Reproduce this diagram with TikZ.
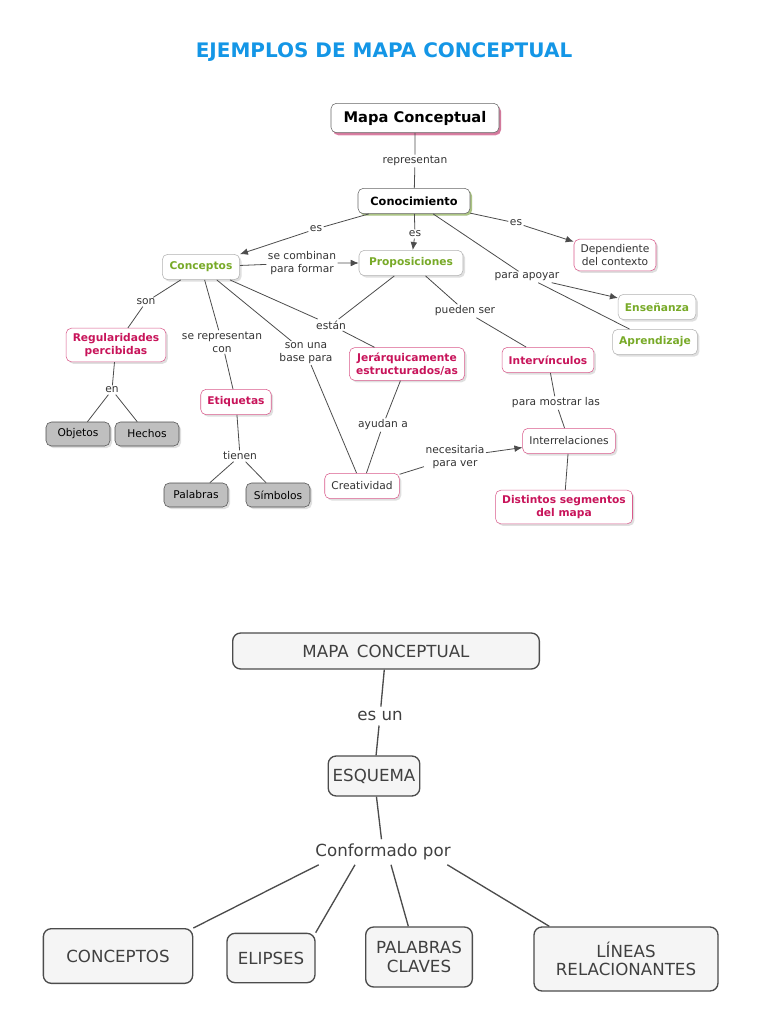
\documentclass[tikz,border=0pt]{standalone}
\usepackage{fontspec}
\setmainfont{DejaVu Sans}
\usetikzlibrary{shadows,arrows.meta}
\definecolor{rosa}{RGB}{200,20,90}
\definecolor{verde}{RGB}{120,170,40}
\definecolor{cian}{RGB}{20,150,230}
\tikzset{
  caja/.style={draw=rosa!70,rounded corners=4pt,fill=white,align=center,inner xsep=5pt,inner ysep=4pt,
    minimum height=19pt,font=\fontsize{8}{9.5}\selectfont,
    drop shadow={shadow xshift=1.5pt,shadow yshift=-1.5pt,fill=black!25}},
  rosada/.style={caja,text=rosa,font=\fontsize{8}{9.5}\selectfont\bfseries},
  verdosa/.style={caja,draw=black!30,text=verde,font=\fontsize{8}{9.5}\selectfont\bfseries},
  gris/.style={caja,draw=black!70,fill=black!25,minimum width=48pt,minimum height=18pt},
  etq/.style={inner sep=1pt,align=center,font=\fontsize{8}{9.5}\selectfont,text=black!80},
  grande/.style={draw=black!70,rounded corners=6pt,fill=black!4,line width=1pt,align=center,
    font=\fontsize{12.5}{15}\selectfont,text=black!75},
  con/.style={draw=black!70,line width=0.6pt},
}
\begin{document}
\begin{tikzpicture}[x=0.75pt,y=-0.75pt,>={Latex[length=6pt,width=5pt]}]
\useasboundingbox (0,0) rectangle (768,1024);
% titulo
\node[text=cian,font=\fontsize{15}{18}\selectfont\bfseries] (titulo) at (384,52) {EJEMPLOS DE MAPA CONCEPTUAL};
% mapa de arriba
\node[caja,draw=black!60,text=black,font=\fontsize{11}{13}\selectfont\bfseries,minimum width=126pt,minimum height=22pt,
  drop shadow={shadow xshift=1.5pt,shadow yshift=-2pt,fill=rosa}] (mapa) at (415,118) {Mapa Conceptual};
\node[etq] (repr) at (415,161) {representan};
\node[caja,draw=black!60,text=black,font=\fontsize{8.5}{10}\selectfont\bfseries,minimum width=84pt,minimum height=19pt,
  drop shadow={shadow xshift=1.5pt,shadow yshift=-1.5pt,fill=verde}] (cono) at (414,201) {Conocimiento};
\node[verdosa,minimum width=58pt] (conceptos) at (201,267) {Conceptos};
\node[verdosa,minimum width=78pt] (prop) at (411,263) {Proposiciones};
\node[caja,text=black!80] (depe) at (615,255) {Dependiente\\del contexto};
\node[verdosa] (ense) at (657,307) {Enseñanza};
\node[verdosa] (apre) at (655,342) {Aprendizaje};
\node[rosada] (regu) at (116,345) {Regularidades\\percibidas};
\node[gris] (obje) at (78,434) {Objetos};
\node[gris] (hech) at (147,434) {Hechos};
\node[rosada] (etiq) at (236,402) {Etiquetas};
\node[gris] (pala) at (196,495) {Palabras};
\node[gris] (simb) at (278,495) {Símbolos};
\node[rosada] (jera) at (407,364) {Jerárquicamente\\estructurados/as};
\node[rosada] (inte) at (548,360) {Intervínculos};
\node[caja,text=black!80] (crea) at (362,486) {Creatividad};
\node[caja,text=black!80] (rela) at (569,441) {Interrelaciones};
\node[rosada] (dist) at (564,507) {Distintos segmentos\\del mapa};
% etiquetas de enlace
\node[etq] (es1) at (316,229) {es};
\node[etq] (es2) at (415,234) {es};
\node[etq] (es3) at (516,223) {es};
\node[etq] (comb) at (302,263) {se combinan\\para formar};
\node[etq] (apoy) at (527,277) {para apoyar};
\node[etq] (son) at (146,302) {son};
\node[etq] (en) at (112,390) {en};
\node[etq] (repc) at (222,342) {se representan\\con};
\node[etq] (tien) at (240,456) {tienen};
\node[etq] (base) at (306,353) {son una\\base para};
\node[etq] (esta) at (331,325) {están};
\node[etq] (pued) at (465,311) {pueden ser};
\node[etq] (ayud) at (383,425) {ayudan a};
\node[etq] (nece) at (455,457) {necesitaria\\para ver};
\node[etq] (most) at (556,403) {para mostrar las};
% enlaces
\draw[con] (mapa) -- (repr) -- (cono);
\draw[con,->] (cono) -- (es1) -- (conceptos);
\draw[con,->] (cono) -- (es2) -- (prop);
\draw[con,->] (cono) -- (es3) -- (depe);
\draw[con] (cono) -- (apoy);
\draw[con,->] (apoy) -- (ense);
\draw[con] (apoy) -- (apre);
\draw[con,->] (conceptos) -- (comb) -- (prop);
\draw[con] (conceptos) -- (son) -- (regu);
\draw[con] (regu) -- (en) -- (obje);
\draw[con] (en) -- (hech);
\draw[con] (conceptos) -- (repc) -- (etiq);
\draw[con] (etiq) -- (tien) -- (pala);
\draw[con] (tien) -- (simb);
\draw[con] (conceptos) -- (base) -- (crea);
\draw[con] (conceptos) -- (esta) -- (jera);
\draw[con] (prop) -- (esta);
\draw[con] (prop) -- (pued) -- (inte);
\draw[con] (jera) -- (ayud) -- (crea);
\draw[con,->] (crea) -- (nece) -- (rela);
\draw[con] (inte) -- (most) -- (rela);
\draw[con] (rela) -- (dist);
% mapa de abajo
\node[grande,minimum width=230pt,minimum height=27pt] (mc) at (386,651) {MAPA\enspace CONCEPTUAL};
\node[font=\fontsize{12.5}{15}\selectfont,text=black!75] (esun) at (380,716) {es un};
\node[grande,minimum width=66pt,minimum height=30pt] (esq) at (374,776) {ESQUEMA};
\node[font=\fontsize{12.5}{15}\selectfont,text=black!75] (conf) at (383,852) {Conformado por};
\node[grande,minimum width=112pt,minimum height=41pt] (b1) at (118,956) {CONCEPTOS};
\node[grande,minimum width=66pt,minimum height=37pt] (b2) at (271,958) {ELIPSES};
\node[grande,minimum width=80pt,minimum height=45pt,font=\fontsize{12.5}{14}\selectfont] (b3) at (419,957) {PALABRAS\\CLAVES};
\node[grande,minimum width=138pt,minimum height=48pt,font=\fontsize{12.5}{14}\selectfont] (b4) at (626,959) {LÍNEAS\\RELACIONANTES};
\draw[con,line width=1pt] (mc) -- (esun) -- (esq) -- (conf);
\draw[con,line width=1pt] (conf.south west) ++(8,0) coordinate (c1) -- (b1.north east);
\draw[con,line width=1pt] (conf.south) ++(-28,0) coordinate (c2) -- (b2.north east);
\draw[con,line width=1pt] (conf.south) ++(8,0) coordinate (c3) -- ([xshift=-8pt]b3.north);
\draw[con,line width=1pt] (conf.south east) ++(-8,0) coordinate (c4) -- ([xshift=12pt]b4.north west);
\end{tikzpicture}
\end{document}
